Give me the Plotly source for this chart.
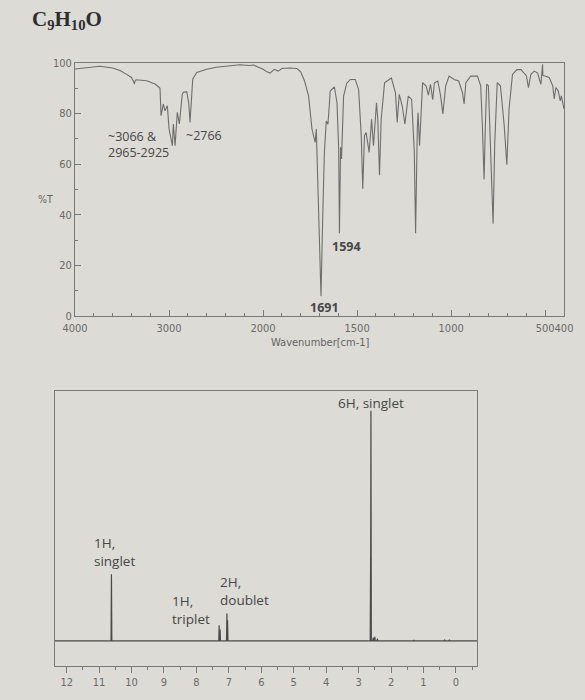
import plotly.graph_objects as go

# ---------------- IR data (wavenumber cm-1, %T) ----------------
ir_wavenumber = [4000, 3900, 3734, 3600, 3521, 3450, 3400, 3375, 3369, 3360, 3350, 3237, 3180, 3149,
                 3110, 3096, 3085, 3061, 3043, 3018, 3000, 2965, 2954, 2936, 2912, 2890, 2860, 2848,
                 2812, 2790, 2777, 2760, 2748, 2705, 2600, 2500, 2400, 2245, 2150, 2100, 2050, 2000,
                 1980, 1963, 1940, 1920, 1900, 1856, 1820, 1800, 1780, 1758, 1740, 1723, 1717, 1705,
                 1692, 1683, 1674, 1664, 1655, 1643, 1621, 1607, 1598, 1594, 1588, 1583, 1572, 1555,
                 1536, 1510, 1492, 1478, 1470, 1461, 1452, 1436, 1423, 1413, 1397, 1390, 1381, 1372,
                 1354, 1318, 1296, 1287, 1276, 1260, 1246, 1228, 1210, 1196, 1189, 1180, 1176, 1168,
                 1152, 1133, 1121, 1110, 1098, 1089, 1071, 1056, 1044, 1029, 1011, 984, 960, 940,
                 931, 922, 896, 860, 843, 834, 825, 818, 811, 802, 793, 777, 768, 755, 738, 718, 704,
                 692, 674, 650, 629, 600, 589, 576, 558, 540, 523, 516, 514, 512, 496, 478, 460, 452,
                 443, 431, 420, 414, 400]
ir_transmittance = [97.6, 98.0, 98.7, 98.0, 97.0, 95.5, 94.3, 92.5, 91.7, 93.0, 93.4, 93.0, 92.3, 91.7,
                    90.5, 90.0, 79.2, 83.8, 81.1, 83.1, 74.0, 67.3, 75.9, 67.3, 80.5, 75.9, 87.5, 88.4,
                    88.7, 84.0, 76.5, 88.0, 93.7, 96.3, 97.5, 98.3, 98.8, 99.3, 99.0, 99.2, 98.3, 97.5,
                    96.5, 96.0, 97.5, 96.8, 97.8, 98.0, 97.8, 96.5, 93.0, 86.9, 73.9, 68.6, 73.9, 38.6,
                    7.8, 38.6, 64.7, 77.1, 75.8, 88.9, 90.6, 84.3, 66.0, 32.7, 66.7, 62.1, 86.9, 92.0,
                    93.5, 93.5, 89.5, 71.2, 50.3, 71.2, 72.5, 64.7, 77.8, 67.3, 84.3, 77.8, 55.6, 77.8,
                    92.2, 94.1, 88.2, 76.5, 87.6, 83.0, 75.8, 86.9, 85.6, 64.7, 32.7, 73.9, 80.4, 67.3,
                    92.2, 90.9, 87.3, 91.6, 85.5, 92.2, 92.9, 87.0, 79.9, 91.0, 94.8, 93.5, 92.9, 88.3,
                    83.8, 92.2, 94.8, 94.8, 91.0, 75.4, 54.0, 75.4, 91.6, 91.0, 68.9, 36.5, 68.9, 92.2,
                    91.0, 75.4, 59.8, 81.9, 95.5, 97.4, 97.4, 95.0, 90.3, 95.5, 96.8, 96.0, 91.6, 96.0,
                    99.5, 95.0, 94.8, 94.2, 91.0, 85.8, 90.3, 89.0, 85.0, 87.0, 81.9]

ir_tick_wavenumbers = [4000, 3000, 2000, 1500, 1000, 500, 400]
ir_tick_labels = ["4000", "3000", "2000", "1500", "1000", "500", "400"]
ir_y_ticks = [0, 20, 40, 60, 80, 100]

# ---------------- NMR data (ppm, relative intensity) ----------------
nmr_ppm = [10.62, 7.30, 7.27, 7.06, 7.04, 2.63, 2.62, 2.55, 2.50, 2.42, 1.30, 0.35, 0.20]
nmr_height = [29.0, 6.8, 5.0, 11.9, 9.0, 36.0, 100.0, 1.5, 1.8, 1.0, 0.4, 0.6, 0.5]
nmr_tick_vals = list(range(0, 13))


def wn_to_pos(w):
    # the instrument's chart doubles its scale below 2000 cm-1
    return (4000 - w) / 2 if w >= 2000 else 1000 + (2000 - w)


ir_x = [wn_to_pos(w) for w in ir_wavenumber]

# stick spectrum for NMR
nx, ny = [12.36], [0.0]
for p, h in sorted(zip(nmr_ppm, nmr_height), key=lambda t: -t[0]):
    nx += [p + 0.012, p, p - 0.012]
    ny += [0.0, h, 0.0]
nx.append(-0.65)
ny.append(0.0)

BG = "#dcdbd5"
FRAME = "#7a7a7a"
TICKFONT = dict(family="Liberation Sans Narrow, DejaVu Sans Condensed, Arial Narrow, sans-serif",
                size=11, color="#6a6a6a")
ANNFONT = "Open Sans, Lato, Liberation Sans, sans-serif"

fig = go.Figure()
fig.add_trace(go.Scatter(x=ir_x, y=ir_transmittance, mode="lines",
                         line=dict(color="#6e6e6e", width=1.1), xaxis="x", yaxis="y",
                         hoverinfo="skip", showlegend=False))
fig.add_trace(go.Scatter(x=nx, y=ny, mode="lines",
                         line=dict(color="#4a4a4a", width=1.2), xaxis="x2", yaxis="y2",
                         hoverinfo="skip", showlegend=False))

fig.update_layout(
    width=585, height=700, autosize=False,
    margin=dict(l=0, r=0, t=0, b=0, pad=0),
    paper_bgcolor=BG, plot_bgcolor=BG,
    xaxis=dict(domain=[75 / 585, 564 / 585], anchor="y", range=[0, 2600], automargin=False,
               tickmode="array", tickvals=[wn_to_pos(w) for w in ir_tick_wavenumbers],
               ticktext=ir_tick_labels, tickangle=0, ticks="inside", ticklen=6, tickcolor=FRAME,
               ticklabelstandoff=2,
               minor=dict(tickmode="linear", tick0=0, dtick=100, ticks="inside", ticklen=3,
                          tickcolor=FRAME),
               showline=True, linecolor=FRAME, linewidth=1, mirror=True,
               showgrid=False, zeroline=False, tickfont=TICKFONT),
    yaxis=dict(domain=[1 - 316 / 700, 1 - 63 / 700], anchor="x", range=[0, 100], automargin=False,
               tickmode="array", tickvals=ir_y_ticks, ticks="inside", ticklen=6, tickcolor=FRAME,
               minor=dict(tickmode="linear", tick0=0, dtick=10, ticks="inside", ticklen=3,
                          tickcolor=FRAME),
               showline=True, linecolor=FRAME, linewidth=1, mirror=True,
               showgrid=False, zeroline=False, tickfont=TICKFONT),
    xaxis2=dict(domain=[55 / 585, 477 / 585], anchor="y2", range=[12.36, -0.65], automargin=False,
                tickmode="array", tickvals=nmr_tick_vals, tickangle=0, ticks="outside", ticklen=6,
                tickcolor=FRAME,
                minor=dict(tickmode="linear", tick0=0, dtick=0.5, ticks="outside", ticklen=3,
                           tickcolor=FRAME),
                showline=True, linecolor=FRAME, linewidth=1, mirror=True,
                showgrid=False, zeroline=False, tickfont=TICKFONT),
    yaxis2=dict(domain=[1 - 666 / 700, 1 - 391 / 700], anchor="x2", range=[-10.9, 108.6],
                automargin=False, showticklabels=False, ticks="",
                showline=True, linecolor=FRAME, linewidth=1, mirror=True,
                showgrid=False, zeroline=False),
)

ann = []


def add(text, px, py, size, xanchor="left", bold=False, family=ANNFONT, color="#474747", align="left"):
    ann.append(dict(text=f"<b>{text}</b>" if bold else text, x=px / 585, y=1 - py / 700,
                    xref="paper", yref="paper", xanchor=xanchor, yanchor="middle",
                    showarrow=False, align=align,
                    font=dict(family=family, size=size, color=color)))


add("C<sub>9</sub>H<sub>10</sub>O", 30, 20, 21, bold=True,
    family="Liberation Serif, DejaVu Serif, serif", color="#2e2e2e")
add("~3066 &<br>2965-2925", 106, 144, 12.5)
add("~2766", 184, 135, 12.5)
add("1594", 330, 246, 12.5, bold=True)
add("1691", 308, 307, 12.5, bold=True)
add("%T", 45, 199, 10.5, xanchor="center",
    family="Liberation Sans Narrow, DejaVu Sans Condensed, sans-serif", color="#666666")
add("Wavenumber[cm-1]", 320, 342, 11, xanchor="center",
    family="Liberation Sans Narrow, DejaVu Sans Condensed, sans-serif", color="#666666")
add("6H, singlet", 371, 403, 13.5, xanchor="center")
add("1H,<br>singlet", 92, 552, 13.5)
add("1H,<br>triplet", 170, 610, 13.5)
add("2H,<br>doublet", 218, 591, 13.5)

fig.update_layout(annotations=ann)

post = (
    "document.documentElement.style.margin='0';document.documentElement.style.padding='0';"
    "document.body.style.margin='0';document.body.style.padding='0';"
    "document.body.style.overflow='hidden';document.documentElement.style.overflow='hidden';"
    "document.body.style.background='" + BG + "';"
)
fig.write_html("out.html", post_script=post, config={"displayModeBar": False})
